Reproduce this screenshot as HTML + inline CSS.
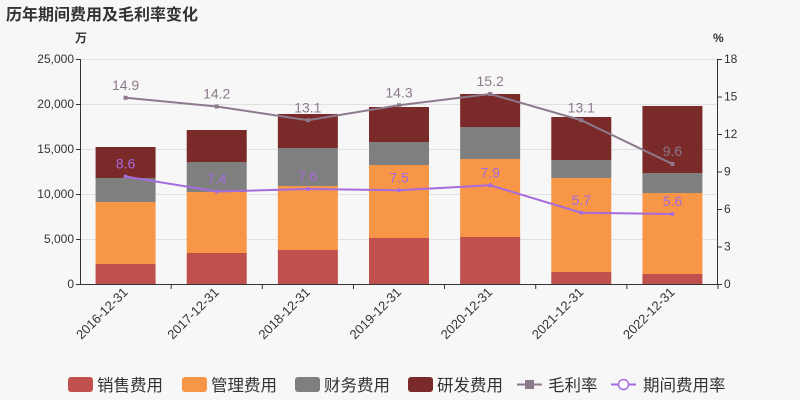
<!DOCTYPE html>
<html><head><meta charset="utf-8"><style>body{margin:0;background:#f7f7f7}svg{display:block;font-family:"Liberation Sans","Noto Sans CJK SC",sans-serif}</style></head><body>
<svg width="800" height="400" viewBox="0 0 800 400">
<rect width="800" height="400" fill="#f7f7f7"/>
<text x="6" y="20" font-size="16" font-weight="bold" fill="#333">历年期间费用及毛利率变化</text>
<text x="75" y="42" font-size="12" font-weight="bold" fill="#333">万</text>
<text x="713" y="42" font-size="12" font-weight="bold" fill="#333">%</text>
<g stroke="#e0e0e0" stroke-width="1">
<line x1="80" y1="59.5" x2="718" y2="59.5"/><line x1="80" y1="104.5" x2="718" y2="104.5"/><line x1="80" y1="149.5" x2="718" y2="149.5"/><line x1="80" y1="194.5" x2="718" y2="194.5"/><line x1="80" y1="239.5" x2="718" y2="239.5"/>
</g>
<line x1="80" y1="284.5" x2="718" y2="284.5" stroke="#333"/>
<line x1="80.5" y1="59" x2="80.5" y2="284" stroke="#333"/>
<line x1="717.5" y1="59" x2="717.5" y2="284" stroke="#333"/>
<g font-size="12" fill="#333" text-anchor="end">
<text x="74" y="63">25,000</text><text x="74" y="108">20,000</text><text x="74" y="153">15,000</text><text x="74" y="198">10,000</text><text x="74" y="243">5,000</text><text x="74" y="288">0</text>
</g>
<g font-size="12" fill="#333">
<text x="724" y="63">18</text><text x="724" y="100.5">15</text><text x="724" y="138">12</text><text x="724" y="175.5">9</text><text x="724" y="213">6</text><text x="724" y="250.5">3</text><text x="724" y="288">0</text>
</g>
<g stroke="#333"><line x1="76" y1="59.5" x2="80" y2="59.5"/><line x1="76" y1="104.5" x2="80" y2="104.5"/><line x1="76" y1="149.5" x2="80" y2="149.5"/><line x1="76" y1="194.5" x2="80" y2="194.5"/><line x1="76" y1="239.5" x2="80" y2="239.5"/><line x1="76" y1="284.5" x2="80" y2="284.5"/>
<line x1="718" y1="59.5" x2="722" y2="59.5"/><line x1="718" y1="97" x2="722" y2="97"/><line x1="718" y1="134.5" x2="722" y2="134.5"/><line x1="718" y1="172" x2="722" y2="172"/><line x1="718" y1="209.5" x2="722" y2="209.5"/><line x1="718" y1="247" x2="722" y2="247"/><line x1="718" y1="284.5" x2="722" y2="284.5"/></g>
<g id="bars"></g>
<g id="xl" font-size="13" fill="#333" text-anchor="end"></g>
<g id="lines"></g>
<g font-size="16.5" fill="#333">
<rect x="68" y="377" width="25" height="15" rx="3" fill="#c0504d"/><text x="97" y="391">销售费用</text>
<rect x="182" y="377" width="25" height="15" rx="3" fill="#f79646"/><text x="211" y="391">管理费用</text>
<rect x="295" y="377" width="25" height="15" rx="3" fill="#7f7f7f"/><text x="324" y="391">财务费用</text>
<rect x="408" y="377" width="25" height="15" rx="3" fill="#7b2a2a"/><text x="437" y="391">研发费用</text>
<line x1="517" y1="384.5" x2="542" y2="384.5" stroke="#8c7a8c" stroke-width="2"/><rect x="525" y="380" width="9" height="9" fill="#8c7a8c"/><text x="548" y="391">毛利率</text>
<line x1="611" y1="384.5" x2="636" y2="384.5" stroke="#a56bdf" stroke-width="2"/><circle cx="623.5" cy="384.5" r="5" fill="#fff" stroke="#a56bdf" stroke-width="1.5"/><text x="643" y="391">期间费用率</text>
</g>
</svg>
<script>
const d=[[2222,9111,11778,15222],[3444,10222,13556,17111],[3778,10889,15111,18889],[5111,13222,15778,19667],[5222,13889,17444,21111],[1333,11778,13778,18556],[1111,10111,12333,19778]];
const col=["#c0504d","#f79646","#7f7f7f","#7b2a2a"];
const gm=[14.9,14.2,13.1,14.3,15.2,13.1,9.6],er=[8.6,7.4,7.6,7.5,7.9,5.7,5.6];
const Y=v=>284-v*0.009,R=v=>284-v*12.5,bw=638/7;
let b="",x="",l="";
d.forEach((s,i)=>{const c=80+bw*(i+0.5);let p=0;s.forEach((t,j)=>{b+=`<rect x="${c-30}" y="${Y(t)}" width="60" height="${Y(p)-Y(t)}" fill="${col[j]}"/>`;p=t});
x+=`<line x1="${80+bw*(i+1)}" y1="284" x2="${80+bw*(i+1)}" y2="289" stroke="#333"/><text transform="translate(${c+3},293) rotate(-45)">${2016+i}-12-31</text>`;});
const pts=a=>a.map((v,i)=>`${80+bw*(i+0.5)},${R(v)}`).join(" ");
l+=`<polyline points="${pts(gm)}" fill="none" stroke="#8c7a8c" stroke-width="2"/><polyline points="${pts(er)}" fill="none" stroke="#a56bdf" stroke-width="2"/>`;
gm.forEach((v,i)=>{const c=80+bw*(i+0.5);l+=`<rect x="${c-2}" y="${R(v)-2}" width="4" height="4" fill="#8c7a8c"/><text x="${c}" y="${R(v)-8}" font-size="14" fill="#8c7a8c" text-anchor="middle">${v}</text>`});
er.forEach((v,i)=>{const c=80+bw*(i+0.5);l+=`<circle cx="${c}" cy="${R(v)}" r="2" fill="#a56bdf"/><text x="${c}" y="${R(v)-8}" font-size="14" fill="#a56bdf" text-anchor="middle">${v}</text>`});
document.getElementById("bars").innerHTML=b;
document.getElementById("xl").innerHTML=x;
document.getElementById("lines").innerHTML=l;
</script>
</body></html>
